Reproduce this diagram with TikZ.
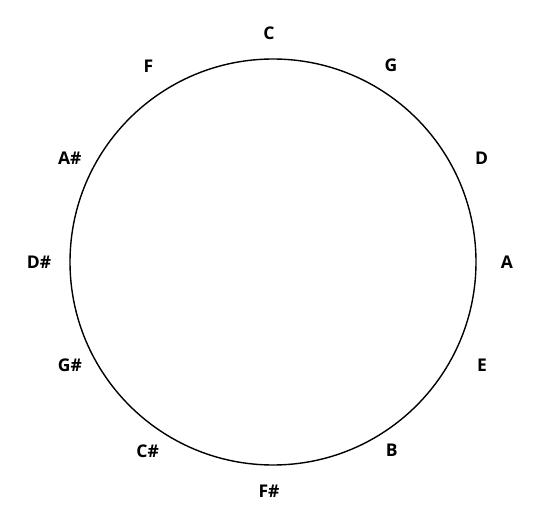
\documentclass[tikz,border=0pt]{standalone}
\usepackage{fontspec}
\setsansfont{Open Sans}
\usetikzlibrary{calc}
\begin{document}
\begin{tikzpicture}[x=1pt,y=1pt,
  note/.style={font=\sffamily\bfseries\fontsize{17.5}{17.5}\selectfont,inner sep=0pt}]
  \useasboundingbox (0,0) rectangle (538,-521);
  \coordinate (center) at (273,-262);
  \draw[line width=1.4pt] (center) circle (203);
  % labels around the circle: name/angle/radius/text
  \foreach \name/\ang/\rad/\lbl in {c/91/229/C,g/59/229/G,d/26.5/233/D,a/0/234/A,
      e/-26.2/233/E,b/-57.8/223/B,fs/-91/229/F\#,cs/-123.5/227/C\#,
      gs/-153/228/G\#,ds/180/234/D\#,as/153/228/A\#,f/122.5/232/F}
    \node[note] (\name) at ($(center)+(\ang:\rad)$) {\lbl};
\end{tikzpicture}
\end{document}
